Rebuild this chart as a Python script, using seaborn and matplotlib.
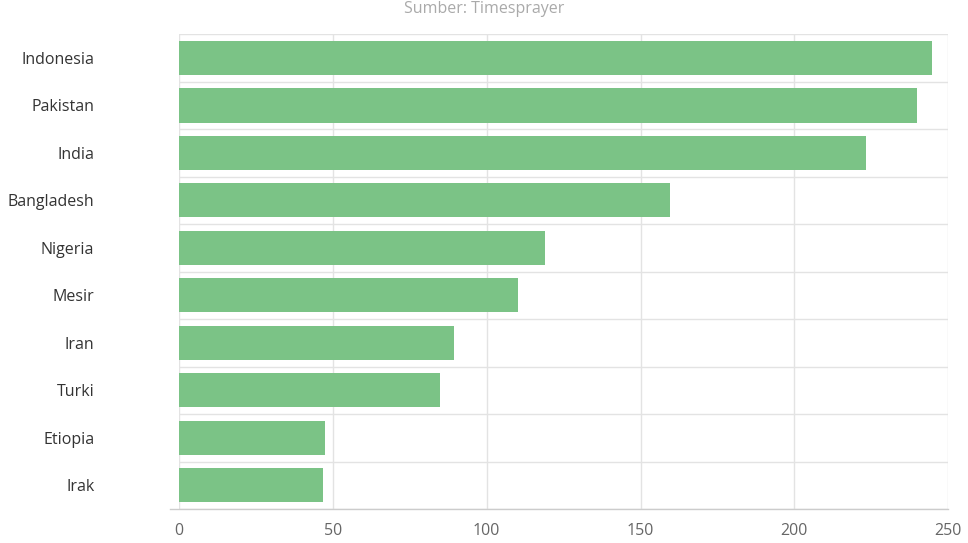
import pandas as pd
import matplotlib.pyplot as plt
import seaborn as sns
from matplotlib.ticker import FixedLocator

countries = ['Indonesia', 'Pakistan', 'India', 'Bangladesh', 'Nigeria',
             'Mesir', 'Iran', 'Turki', 'Etiopia', 'Irak']
values = [244.8, 239.9, 223.3, 159.6, 119.0, 110.2, 89.4, 84.9, 47.5, 46.8]
x_ticks = [0, 50, 100, 150, 200, 250]

df = pd.DataFrame({'country': countries, 'value': values})

sns.set_style('white')
plt.rcParams['font.family'] = ['Open Sans', 'DejaVu Sans']

fig = plt.figure(figsize=(9.68, 5.43), dpi=100)
ax = fig.add_axes([0.185, 0.0626, 0.7945, 0.8744])

sns.barplot(data=df, x='value', y='country', orient='h', color='#7BC386',
            saturation=1, width=0.72, linewidth=0, ax=ax, zorder=3)

ax.set_xlim(0, 250)
ax.set_ylim(len(countries) - 0.5, -0.5)
ax.set_xticks(x_ticks)
ax.set_xlabel('')
ax.set_ylabel('')

# grid lines between categories
ax.yaxis.set_minor_locator(FixedLocator([i - 0.5 for i in range(len(countries) + 1)]))
ax.grid(axis='y', which='minor', color='#e3e3e3', linewidth=1, zorder=0)
ax.grid(axis='x', which='major', color='#e3e3e3', linewidth=1, zorder=0)
ax.set_axisbelow(True)

ax.tick_params(axis='y', which='major', length=0, pad=61, labelsize=11.5, labelcolor='#333333')
ax.tick_params(axis='y', which='minor', length=6.5, color='#e3e3e3', width=1)
ax.tick_params(axis='x', which='major', length=6, color='#e3e3e3', width=1,
               labelsize=11.5, labelcolor='#666666', pad=4)

for side in ['top', 'right', 'left']:
    ax.spines[side].set_visible(False)
ax.spines['bottom'].set_color('#cccccc')
ax.spines['bottom'].set_linewidth(1)
ax.spines['bottom'].set_bounds(-3, 250)

fig.text(0.5, 0.998, 'Sumber: Timesprayer', ha='center', va='top',
         fontsize=11.5, color='#aaaaaa')

fig.savefig('out.png', dpi=100)
